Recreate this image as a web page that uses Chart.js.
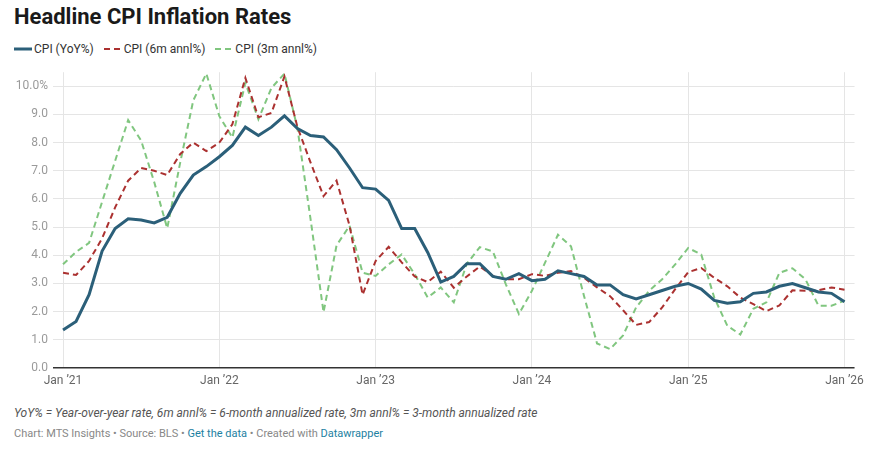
<!DOCTYPE html>
<html>
<head>
<meta charset="utf-8">
<script src="https://cdn.jsdelivr.net/npm/chart.js@4/dist/chart.umd.min.js"></script>
<style>
  body { margin: 0; background: #fff; font-family: Roboto, sans-serif; }
  .wrap { position: relative; width: 876px; height: 450px; overflow: hidden; }
  .title { position: absolute; left: 14px; top: 4px; font-size: 22px; font-weight: 700; color: #1a1a1a; }
  .legend { position: absolute; left: 14px; top: 42px; font-size: 12px; color: #333; display: flex; }
  .legend .item { display: flex; align-items: center; margin-right: 10px; }
  .legend svg { margin-right: 2px; }
  .box { position: absolute; left: 0; top: 60px; width: 870px; height: 335px; }
  .note { position: absolute; left: 14px; top: 406px; font-size: 12px; font-style: italic; color: #555; }
  .credit { position: absolute; left: 14px; top: 427px; font-size: 11px; color: #888; }
  .credit a { color: #1d81a2; text-decoration: none; }
</style>
</head>
<body>
<div class="wrap">
  <div class="title">Headline CPI Inflation Rates</div>
  <div class="legend" id="legend"></div>
  <div class="box"><canvas id="chart"></canvas></div>
  <div class="note">YoY% = Year-over-year rate, 6m annl% = 6-month annualized rate, 3m annl% = 3-month annualized rate</div>
  <div class="credit">Chart: MTS Insights • Source: BLS • <a>Get the data</a> • Created with <a>Datawrapper</a></div>
</div>
<script>
// --- Data (monthly, Jan 2021 .. Jan 2026) ---
const months = [];
for (let y = 2021; y <= 2026; y++) {
    for (let m = 1; m <= 12; m++) {
        if (y === 2026 && m > 1) break;
        months.push(y + '-' + String(m).padStart(2, '0'));
    }
}

const cpiYoY = [
    1.35, 1.65, 2.6, 4.15, 4.95, 5.3, 5.25, 5.15, 5.35, 6.2, 6.85, 7.15,
    7.5, 7.9, 8.55, 8.25, 8.55, 8.95, 8.5, 8.25, 8.2, 7.75, 7.1, 6.4,
    6.35, 5.95, 4.95, 4.95, 4.1, 3.05, 3.25, 3.7, 3.7, 3.25, 3.15, 3.35,
    3.1, 3.15, 3.45, 3.35, 3.25, 2.95, 2.95, 2.6, 2.45, 2.6, 2.75, 2.9,
    3.0, 2.8, 2.4, 2.3, 2.35, 2.65, 2.7, 2.9, 3.0, 2.85, 2.7, 2.65,
    2.35
];
const cpi6m = [
    3.38, 3.3, 3.8, 4.6, 5.7, 6.65, 7.1, 7.0, 6.85, 7.6, 8.0, 7.7,
    8.0, 8.65, 10.3, 8.9, 9.05, 10.35, 8.55, 7.3, 6.1, 6.65, 5.05, 2.6,
    3.8, 4.3, 3.75, 3.25, 3.05, 3.42, 2.85, 3.25, 3.6, 3.27, 3.15, 3.15,
    3.33, 3.27, 3.38, 3.44, 3.2, 2.86, 2.55, 2.05, 1.53, 1.63, 2.15, 2.8,
    3.4, 3.55, 3.2, 2.9, 2.5, 2.27, 2.02, 2.22, 2.76, 2.74, 2.76, 2.86,
    2.78
];
const cpi3m = [
    3.68, 4.12, 4.44, 5.9, 7.35, 8.8, 8.07, 6.6, 4.96, 7.3, 9.5, 10.45,
    8.94, 8.18, 10.12, 8.83, 9.94, 10.45, 8.5, 5.3, 1.98, 4.35, 5.05, 3.38,
    3.27, 3.68, 4.03, 3.33, 2.5, 2.86, 2.33, 3.7, 4.29, 4.14, 2.97, 1.92,
    2.74, 3.73, 4.73, 4.32, 2.56, 0.87, 0.67, 1.16, 2.15, 2.74, 3.15, 3.68,
    4.26, 4.03, 2.5, 1.5, 1.19, 2.1, 2.33, 3.38, 3.54, 3.15, 2.21, 2.21,
    2.39
];

const xTickIdx = [0, 12, 24, 36, 48, 60];
const xTickLabels = ['Jan ’21', 'Jan ’22', 'Jan ’23', 'Jan ’24', 'Jan ’25', 'Jan ’26'];
const yTicks = [0, 1, 2, 3, 4, 5, 6, 7, 8, 9, 10];

const series = [
    { label: 'CPI (YoY%)', data: cpiYoY, color: '#2b5f79', width: 3, dash: [] },
    { label: 'CPI (6m annl%)', data: cpi6m, color: '#ab3130', width: 2, dash: [6, 4] },
    { label: 'CPI (3m annl%)', data: cpi3m, color: '#80c67f', width: 2, dash: [6, 4] }
];

// --- Legend ---
const legend = document.getElementById('legend');
series.forEach(s => {
    const item = document.createElement('div');
    item.className = 'item';
    const dash = s.dash.length ? `stroke-dasharray="${s.dash.join(',')}"` : '';
    item.innerHTML = `<svg width="18" height="6"><line x1="0" y1="3" x2="18" y2="3" stroke="${s.color}" stroke-width="${s.width}" ${dash}/></svg>${s.label}`;
    legend.appendChild(item);
});

// --- Chart ---
new Chart(document.getElementById('chart'), {
    type: 'line',
    data: {
        datasets: series.map(s => ({
            label: s.label,
            data: s.data.map((v, i) => ({ x: i, y: v })),
            borderColor: s.color,
            borderWidth: s.width,
            borderDash: s.dash,
            pointRadius: 0,
            tension: 0,
            fill: false,
            clip: false
        }))
    },
    options: {
        responsive: true,
        maintainAspectRatio: false,
        animation: false,
        layout: { padding: { top: 9, right: 13, left: 0, bottom: 0 } },
        plugins: { legend: { display: false }, tooltip: { enabled: false } },
        scales: {
            x: {
                type: 'linear',
                min: -0.77,
                max: months.length - 1 + 0.77,
                afterBuildTicks: scale => { scale.ticks = xTickIdx.map(v => ({ value: v })); },
                afterFit: scale => { scale.height = 27; },
                ticks: {
                    autoSkip: false, maxRotation: 0, padding: 6,
                    color: '#666', font: { family: 'Roboto', size: 12 },
                    callback: v => xTickLabels[xTickIdx.indexOf(v)]
                },
                grid: { color: '#e5e5e5', drawTicks: false },
                border: { display: false }
            },
            y: {
                min: 0,
                max: 10.5,
                afterBuildTicks: scale => { scale.ticks = yTicks.map(v => ({ value: v })); },
                afterFit: scale => { scale.width = 53; },
                ticks: {
                    padding: 5,
                    color: '#9a9a9a', font: { family: 'Roboto', size: 12 },
                    callback: v => v === 10 ? '10.0%' : v.toFixed(1)
                },
                grid: {
                    drawTicks: false,
                    color: ctx => ctx.tick && ctx.tick.value === 0 ? '#333' : '#e5e5e5',
                    lineWidth: ctx => ctx.tick && ctx.tick.value === 0 ? 1.5 : 1
                },
                border: { display: false }
            }
        }
    }
});
</script>
</body>
</html>
